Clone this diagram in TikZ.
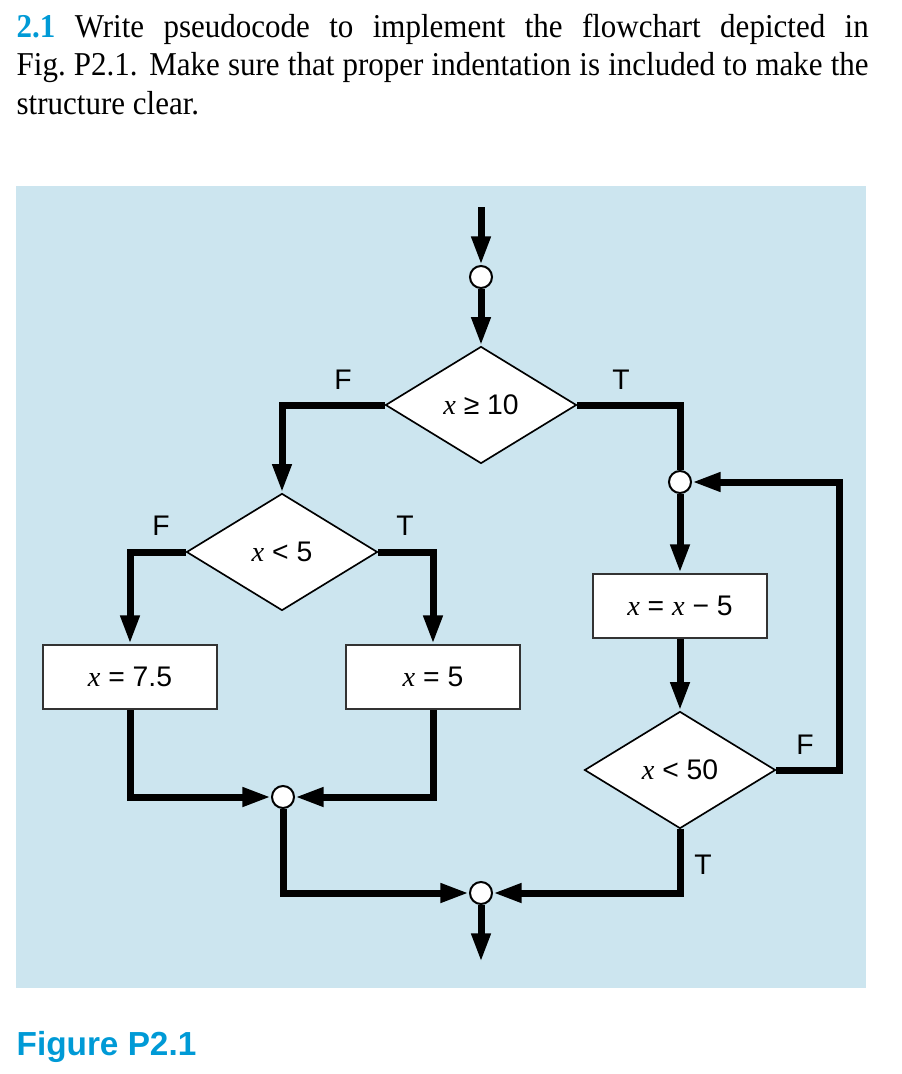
\documentclass[tikz,border=0pt]{standalone}
\usepackage{fontspec}
\setmainfont{Liberation Serif}
\setsansfont{Liberation Sans}
\newfontfamily\bookfont[FakeStretch=0.93]{Liberation Serif}
\usetikzlibrary{shapes.geometric,arrows.meta}
\definecolor{panel}{RGB}{204,229,239}
\definecolor{headblue}{RGB}{0,154,214}
\newcommand{\xv}{{\rmfamily\itshape x}}
\newcommand{\chartfont}{\sffamily\fontsize{8.5}{10}\selectfont}

\begin{document}
\begin{tikzpicture}[x=0.3pt,y=-0.3pt,
  flow/.style={line width=2.1pt,-{Triangle[length=8.6pt,width=5.4pt]}},
  plain/.style={line width=2.1pt},
  test/.style={shape=diamond,draw,line width=0.5pt,fill=white,inner sep=0pt,
    minimum width=57.3pt,minimum height=35.1pt,font=\chartfont},
  assign/.style={rectangle,draw=black!80,line width=0.6pt,fill=white,inner sep=0pt,
    minimum width=52.2pt,minimum height=19.2pt,font=\chartfont},
  joint/.style={circle,draw,line width=0.6pt,fill=white,inner sep=0pt,minimum size=6.6pt},
  tf/.style={font=\chartfont,inner sep=0pt}]
\useasboundingbox (0,0) rectangle (902,1074);
\fill[panel] (16,186) rectangle (866,988);
\node[anchor=north west,inner sep=0pt,text width=255.6pt,align=justify,
  font=\bookfont\fontsize{10}{11.6}\selectfont] (task) at (16,13)
  {\textbf{\textcolor{headblue}{2.1}} Write pseudocode to implement the flowchart depicted in\linebreak
   Fig.~P2.1. Make sure that proper indentation is included to make the\linebreak
   structure clear.};
\node[anchor=base west,inner sep=0pt,text=headblue,font=\sffamily\bfseries\fontsize{10}{12}\selectfont]
  (caption) at (16,1055) {Figure P2.1};

\coordinate (in) at (481,207);
\coordinate (out) at (481,962);
\node[joint] (c1) at (481,277) {};
\node[test] (d1) at (481,405) {\xv{} ≥ 10};
\node[test] (d2) at (282,552) {\xv{} < 5};
\node[assign] (b1) at (130,677) {\xv{} = 7.5};
\node[assign] (b2) at (433,677) {\xv{} = 5};
\node[joint] (c2) at (283,797) {};
\node[joint] (c3) at (680,482) {};
\node[assign] (b3) at (680,606) {\xv{} = \xv{} − 5};
\node[test] (d3) at (680,770) {\xv{} < 50};
\node[joint] (c4) at (481,893) {};

\node[tf] (f1) at (343,380) {F};
\node[tf] (t1) at (621,380) {T};
\node[tf] (f2) at (161,526) {F};
\node[tf] (t2) at (405,526) {T};
\node[tf] (f3) at (805,745) {F};
\node[tf] (t3) at (703,865) {T};

\draw[flow] (in) -- (c1.north);
\draw[flow] (c1.south) -- (d1.north);
\draw[flow] (d1.west) -| (d2.north);
\draw[plain] (d1.east) -| (c3.north);
\draw[flow] (d2.west) -| (b1.north);
\draw[flow] (d2.east) -| (b2.north);
\draw[flow] (b1.south) |- (c2.west);
\draw[flow] (b2.south) |- (c2.east);
\draw[flow] (c2.south) |- (c4.west);
\draw[flow] (c3.south) -- (b3.north);
\draw[flow] (b3.south) -- (d3.north);
\draw[flow] (d3.east) -- ++(63,0) |- (c3.east);
\draw[flow] (d3.south) |- (c4.east);
\draw[flow] (c4.south) -- (out);
\end{tikzpicture}
\end{document}
